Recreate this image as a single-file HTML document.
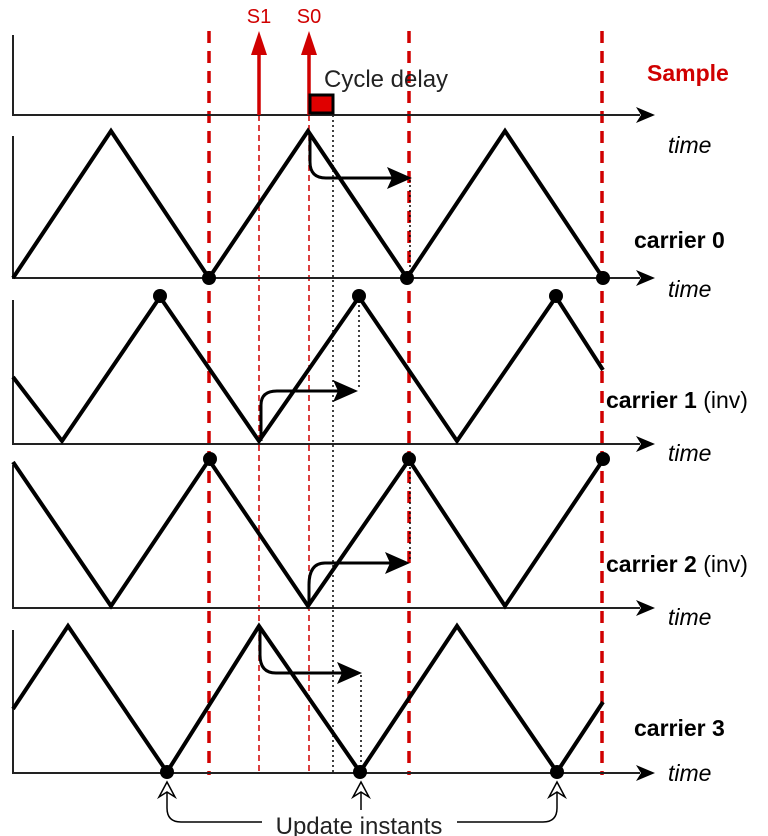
<!DOCTYPE html>
<html><head><meta charset="utf-8"><style>html,body{margin:0;padding:0;background:#fff}svg{display:block}</style></head>
<body>
<svg width="768" height="836" viewBox="0 0 768 836" xmlns="http://www.w3.org/2000/svg" font-family="'Liberation Sans', sans-serif">
<!-- red dashed thick -->
<g stroke="#d00000" stroke-width="3.5" stroke-dasharray="12,8">
<line x1="209" y1="31" x2="209" y2="775"/>
<line x1="409" y1="31" x2="409" y2="775"/>
<line x1="602" y1="31" x2="602" y2="775"/>
</g>
<g stroke="#d00000" stroke-width="1.5" stroke-dasharray="6,4">
<line x1="259" y1="115" x2="259" y2="772"/>
<line x1="309" y1="115" x2="309" y2="772"/>
</g>
<g stroke="#000" stroke-width="1.5" stroke-dasharray="2,3">
<line x1="333" y1="115" x2="333" y2="772"/>
<line x1="410" y1="180" x2="410" y2="278"/>
<line x1="359" y1="300" x2="359" y2="390"/>
<line x1="410" y1="462" x2="410" y2="562"/>
<line x1="361" y1="675" x2="361" y2="772"/>
</g>
<!-- axes -->
<g stroke="#222" stroke-width="2" fill="none">
<path d="M13,35 V115 H640"/>
<path d="M13,136 V278 H640"/>
<path d="M13,300 V444 H640"/>
<path d="M13,465 V608 H640"/>
<path d="M13,630 V773 H640"/>
</g>
<g fill="#000">
<path d="M655,115 L636,107 L641,115 L636,123Z"/>
<path d="M655,278 L636,270 L641,278 L636,286Z"/>
<path d="M655,444 L636,436 L641,444 L636,452Z"/>
<path d="M655,608 L636,600 L641,608 L636,616Z"/>
<path d="M655,773 L636,765 L641,773 L636,781Z"/>
</g>
<!-- carriers -->
<g stroke="#000" stroke-width="4" fill="none" stroke-linejoin="miter">
<polyline points="13,278 111,131 209,278 308,131 407,278 505,131 603,278"/>
<polyline points="13,377 62,441 160,297 259,441 359,297 457,441 556,297 603,370"/>
<polyline points="13,462 111,606 209,460 308,606 409,460 505,606 603,460"/>
<polyline points="13,709 68,626 167,772 259,626 360,772 457,626 557,772 603,702"/>
</g>
<g fill="#000">
<circle cx="209" cy="278" r="7"/><circle cx="407" cy="278" r="7"/><circle cx="603" cy="278" r="7"/>
<circle cx="160" cy="296" r="7"/><circle cx="359" cy="296" r="7"/><circle cx="556" cy="296" r="7"/>
<circle cx="210" cy="459" r="7"/><circle cx="409" cy="459" r="7"/><circle cx="603" cy="459" r="7"/>
<circle cx="167" cy="772" r="7"/><circle cx="360" cy="772" r="7"/><circle cx="557" cy="772" r="7"/>
</g>
<!-- curved arrows -->
<g stroke="#000" stroke-width="3" fill="none">
<path d="M310,135 V162 Q310,178 326,178 H395"/>
<path d="M261,441 V405 Q261,391 277,391 H342"/>
<path d="M309,606 V585 Q309,563 325,563 H393"/>
<path d="M260,628 V655 Q260,673 276,673 H345"/>
</g>
<g fill="#000">
<path d="M412,178 L387,167 L392,178 L387,189Z"/>
<path d="M358,391 L333,380 L338,391 L333,402Z"/>
<path d="M410,563 L385,552 L390,563 L385,574Z"/>
<path d="M362,673 L337,662 L342,673 L337,684Z"/>
</g>
<!-- sample arrows -->
<g stroke="#d00000" stroke-width="3.5">
<line x1="259" y1="115" x2="259" y2="50"/>
<line x1="309" y1="115" x2="309" y2="50"/>
</g>
<g fill="#d00000">
<path d="M259,31 L251,55 L267,55Z"/>
<path d="M309,31 L301,55 L317,55Z"/>
</g>
<text x="259" y="23" font-size="20" fill="#d00000" text-anchor="middle">S1</text>
<text x="309" y="23" font-size="20" fill="#d00000" text-anchor="middle">S0</text>
<rect x="310" y="95" width="23" height="18" fill="#e00000" stroke="#000" stroke-width="3"/>
<text x="324" y="87" font-size="24" fill="#222">Cycle delay</text>
<text x="647" y="81" font-size="23" font-weight="bold" fill="#d00000">Sample</text>
<g font-size="23" font-style="italic" fill="#000">
<text x="668" y="153">time</text><text x="668" y="297">time</text><text x="668" y="461">time</text><text x="668" y="625">time</text><text x="668" y="781">time</text>
</g>
<g font-size="23" fill="#000">
<text x="634" y="248" font-weight="bold">carrier 0</text>
<text x="606" y="408"><tspan font-weight="bold">carrier 1</tspan> (inv)</text>
<text x="606" y="572"><tspan font-weight="bold">carrier 2</tspan> (inv)</text>
<text x="634" y="736" font-weight="bold">carrier 3</text>
</g>
<!-- update instants -->
<g stroke="#000" stroke-width="1.5" fill="none">
<path d="M167,790 V808 Q167,822 181,822 H262"/>
<path d="M457,822 H543 Q557,822 557,808 V790"/>
<line x1="361" y1="790" x2="361" y2="810"/>
</g>
<g fill="#fff" stroke="#000" stroke-width="1.5">
<path d="M167,782 L159,797 L167,792 L175,797Z"/>
<path d="M361,782 L353,797 L361,792 L369,797Z"/>
<path d="M557,782 L549,797 L557,792 L565,797Z"/>
</g>
<text x="359" y="834" font-size="24" fill="#222" text-anchor="middle">Update instants</text>
</svg>
</body></html>
